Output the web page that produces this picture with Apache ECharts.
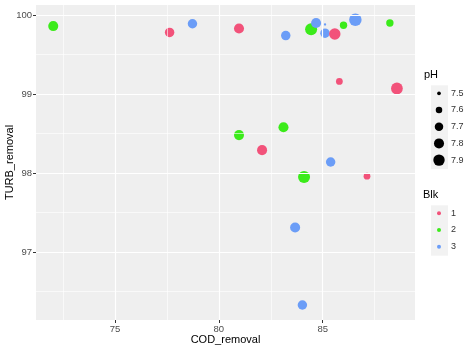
<!DOCTYPE html>
<html><head><meta charset="utf-8">
<script src="https://cdn.jsdelivr.net/npm/echarts@6/dist/echarts.min.js"></script>
<style>html,body{margin:0;padding:0;background:#fff}#c{width:474px;height:351px}</style>
</head><body><div id="c"></div>
<script>
// ---- data ----
const codRemoval  = [72.03, 77.63, 78.73, 80.97, 83.22, 84.44, 84.68, 85.11, 85.11, 85.58, 86.00, 86.57, 88.23, 85.80, 88.57, 83.11, 80.97, 82.08, 85.38, 84.10, 87.13, 83.67, 84.02];
const turbRemoval = [99.86, 99.78, 99.89, 99.83, 99.74, 99.82, 99.90, 99.88, 99.77, 99.76, 99.87, 99.94, 99.90, 99.16, 99.07, 98.58, 98.48, 98.29, 98.14, 97.95, 97.96, 97.31, 96.33];
const phValues    = [7.80, 7.76, 7.76, 7.80, 7.76, 7.95, 7.80, 7.47, 7.76, 7.90, 7.64, 7.99, 7.64, 7.61, 7.93, 7.80, 7.80, 7.80, 7.76, 7.95, 7.61, 7.80, 7.76];
const blkValues   = [2, 1, 3, 1, 3, 2, 3, 3, 3, 1, 2, 3, 2, 1, 1, 2, 2, 1, 3, 2, 1, 3, 3];
const blkLevels   = ['1', '2', '3'];
const phBreaks    = [7.5, 7.6, 7.7, 7.8, 7.9];
const xTicks      = [75, 80, 85];
const yTicks      = [97, 98, 99, 100];
const xMinor      = [72.5, 77.5, 82.5, 87.5];
const yMinor      = [96.5, 97.5, 98.5, 99.5];

const blkColors = ['#F2527A', '#3BEB1A', '#6B9DF7'];
function sizeFor(ph){ return Math.sqrt(Math.max(4, 14 + 290 * (ph - 7.5))); }

const points = codRemoval.map((x, i) => [x, turbRemoval[i], phValues[i], blkValues[i]]);

const FONT = '"Liberation Sans", Arial, sans-serif';
const chart = echarts.init(document.getElementById('c'), null, {renderer: 'canvas'});

const gridLines = [];
xMinor.forEach(v => gridLines.push({xAxis: v, lineStyle: {color: '#fff', width: 0.6, type: 'solid'}}));
yMinor.forEach(v => gridLines.push({yAxis: v, lineStyle: {color: '#fff', width: 0.6, type: 'solid'}}));
xTicks.forEach(v => gridLines.push({xAxis: v, lineStyle: {color: '#fff', width: 1.2, type: 'solid'}}));
yTicks.forEach(v => gridLines.push({yAxis: v, lineStyle: {color: '#fff', width: 1.2, type: 'solid'}}));

// legend graphics
const graphics = [];
const lx = 439;
graphics.push({type: 'text', left: 424, top: 69, style: {text: 'pH', font: '11px ' + FONT, fill: '#000'}});
phBreaks.forEach((b, i) => {
  const cy = 93.3 + i * 16.7;
  graphics.push({type: 'rect', shape: {x: lx - 8, y: cy - 8, width: 17, height: 17}, style: {fill: '#F2F2F2'}});
  const r = sizeFor(b) / 2;
  graphics.push({type: 'circle', shape: {cx: lx, cy: cy, r: r}, style: {fill: '#000'}});
  graphics.push({type: 'text', x: 451, y: cy, style: {text: String(b), font: '9px ' + FONT, fill: '#333', textVerticalAlign: 'middle'}});
});
graphics.push({type: 'text', left: 423, top: 189, style: {text: 'Blk', font: '11px ' + FONT, fill: '#000'}});
blkLevels.forEach((b, i) => {
  const cy = 213.3 + i * 16.7;
  graphics.push({type: 'rect', shape: {x: lx - 8, y: cy - 8, width: 17, height: 17}, style: {fill: '#F2F2F2'}});
  graphics.push({type: 'circle', shape: {cx: lx, cy: cy, r: 2}, style: {fill: blkColors[i]}});
  graphics.push({type: 'text', x: 451, y: cy, style: {text: b, font: '9px ' + FONT, fill: '#333', textVerticalAlign: 'middle'}});
});

chart.setOption({
  animation: false,
  backgroundColor: '#fff',
  grid: {left: 36, right: 59, top: 5, bottom: 31, show: true, backgroundColor: '#EFEFEF', borderWidth: 0,
         containLabel: false, outerBoundsMode: 'none'},
  xAxis: {
    type: 'value', min: 71.2, max: 89.44,
    name: 'COD_removal', nameLocation: 'middle', nameGap: 14, nameMoveOverlap: false,
    nameTextStyle: {fontFamily: FONT, fontSize: 11, color: '#000'},
    axisLine: {show: false},
    axisTick: {show: true, length: 3, customValues: xTicks, lineStyle: {color: '#333'}},
    axisLabel: {customValues: xTicks, fontFamily: FONT, fontSize: 9.5, color: '#4D4D4D', margin: 4},
    splitLine: {show: false}
  },
  yAxis: {
    type: 'value', min: 96.14, max: 100.127,
    name: 'TURB_removal', nameLocation: 'middle', nameGap: 21, nameMoveOverlap: false,
    nameTextStyle: {fontFamily: FONT, fontSize: 11, color: '#000'},
    axisLine: {show: false},
    axisTick: {show: true, length: 3, customValues: yTicks, lineStyle: {color: '#333'}},
    axisLabel: {customValues: yTicks, fontFamily: FONT, fontSize: 9.5, color: '#4D4D4D', margin: 4},
    splitLine: {show: false}
  },
  series: [
    {
      type: 'line', data: [], z: 1, silent: true,
      markLine: {silent: true, symbol: ['none', 'none'], label: {show: false}, animation: false, data: gridLines}
    },
    {
      type: 'scatter', z: 3,
      data: points,
      symbol: 'circle',
      symbolSize: v => sizeFor(v[2]),
      itemStyle: {opacity: 1, color: p => blkColors[p.value[3] - 1]}
    }
  ],
  graphic: graphics
});
</script></body></html>
